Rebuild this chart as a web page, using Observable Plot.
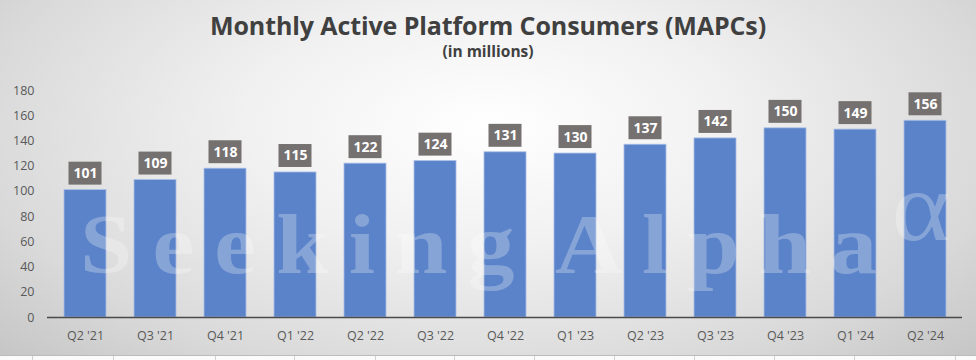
<!DOCTYPE html>
<html>
<head>
<meta charset="utf-8">
<script src="https://cdn.jsdelivr.net/npm/d3@7"></script>
<script src="https://cdn.jsdelivr.net/npm/@observablehq/plot@0.6"></script>
<style>
  html, body { margin: 0; padding: 0; }
  #frame {
    position: relative; width: 976px; height: 360px; overflow: hidden;
    background: radial-gradient(ellipse 70% 95% at 50% 35%, #ffffff 0%, #f1f1f1 35%, #d9d9d9 75%, #c4c4c4 100%);
    font-family: "Open Sans", sans-serif;
  }
  .title { position: absolute; left: 0; width: 976px; text-align: center; line-height: 1; color: #404040; font-weight: bold; }
  #t1 { top: 13px; font-size: 25px; letter-spacing: -0.1px; }
  #t2 { top: 44px; font-size: 15.5px; }
  #chart { position: absolute; left: 0; top: 75px; }
  #wm { position: absolute; left: 0; top: 0; pointer-events: none; }
  #strip { position: absolute; left: 0; top: 355px; width: 976px; height: 5px; background: #fbfbfb; border-top: 1px solid #bcbcbc; }
  .cell { position: absolute; top: 0; width: 1px; height: 5px; background: #d0d0d0; }
</style>
</head>
<body>
<div id="frame">
  <div class="title" id="t1">Monthly Active Platform Consumers (MAPCs)</div>
  <div class="title" id="t2">(in millions)</div>
  <div id="chart"></div>
  <svg id="wm" width="976" height="360">
    <g fill="#ffffff" fill-opacity="0.27" font-family="'Liberation Serif', serif" font-weight="bold" font-size="84" transform="scale(1.12,1)">
      <text x="71.4" y="273" textLength="388" lengthAdjust="spacing">Seeking</text>
      <text x="495.5" y="273" textLength="287.5" lengthAdjust="spacing">Alpha</text>
      <text x="796" y="240" font-size="100" font-weight="normal">α</text>
    </g>
  </svg>
  <div id="strip"></div>
</div>
<script>
const quarters = ["Q2 '21","Q3 '21","Q4 '21","Q1 '22","Q2 '22","Q3 '22","Q4 '22","Q1 '23","Q2 '23","Q3 '23","Q4 '23","Q1 '24","Q2 '24"];
const mapcs = [101,109,118,115,122,124,131,130,137,142,150,149,156];
const yTicks = [0,20,40,60,80,100,120,140,160,180];

const data = quarters.map((q, i) => ({q, v: mapcs[i]}));

const chart = Plot.plot({
  width: 976,
  height: 275,
  marginTop: 15,
  marginBottom: 33,
  marginLeft: 47,
  marginRight: 14,
  style: {background: "transparent", fontFamily: "'Open Sans', sans-serif", fontSize: "12.5px", color: "#595959"},
  x: {domain: quarters, paddingInner: 0.4, paddingOuter: 0.2, label: null, tickSize: 0, tickPadding: 14},
  y: {domain: [0, 180], ticks: yTicks, label: null, tickSize: 0, tickPadding: 13},
  marks: [
    Plot.barY(data, {x: "q", y: "v", fill: "#5b83c9", stroke: "#a9bfe6", strokeWidth: 0.8}),
    Plot.ruleY([0], {stroke: "#4a4a4a", strokeWidth: 1.5}),
    Plot.barY(data, {x: "q", y1: d => d.v, y2: d => d.v + 18.2, dy: -5, insetLeft: 4.5, insetRight: 4.5, fill: "#767171"}),
    Plot.text(data, {x: "q", y: "v", text: d => String(d.v), dy: -16.5, fill: "#ffffff", fontWeight: "bold", fontSize: 14})
  ]
});
document.getElementById("chart").appendChild(chart);

const cellLines = [32,113,215,294,375,454,534,614,694,774,854,955];
const strip = document.getElementById("strip");
cellLines.forEach(x => { const d = document.createElement("div"); d.className = "cell"; d.style.left = x + "px"; strip.appendChild(d); });
</script>
</body>
</html>
